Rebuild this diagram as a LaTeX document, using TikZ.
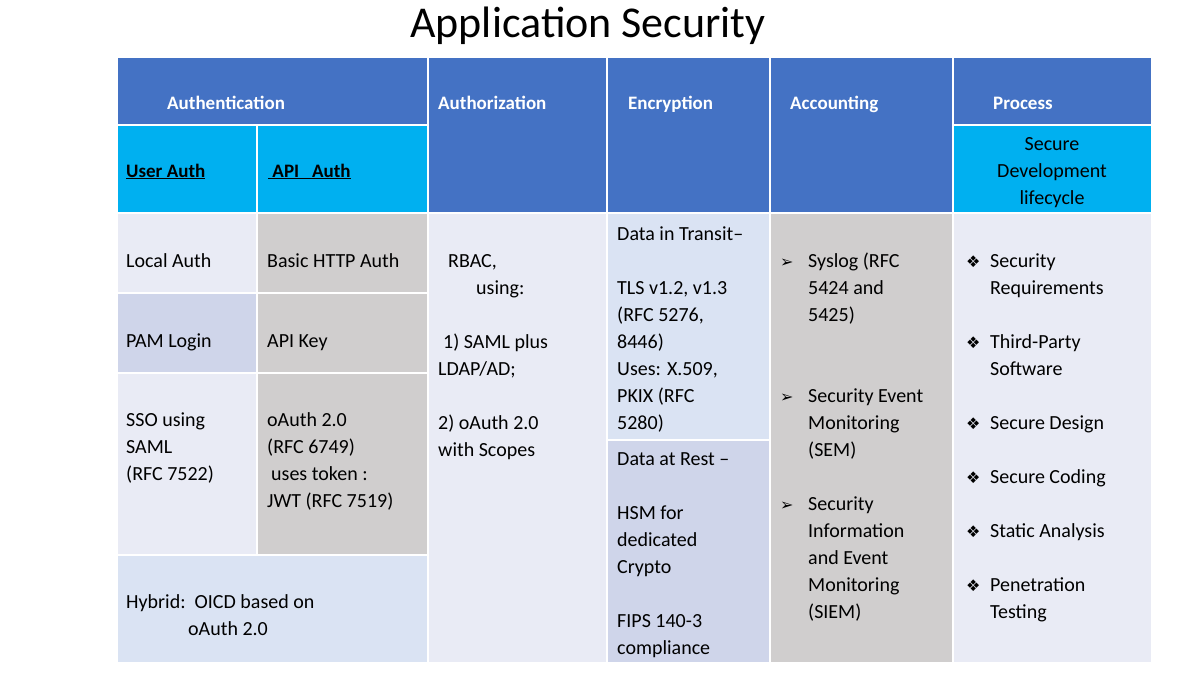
\documentclass[tikz,border=0pt]{standalone}
\usepackage{fontspec}
\setmainfont{Carlito}
\newfontfamily\dv{DejaVu Sans}
\definecolor{hblue}{HTML}{4472C4}
\definecolor{hcyan}{HTML}{00B0F0}
\definecolor{lgt}{HTML}{E9EBF5}
\definecolor{mid}{HTML}{CFD5EA}
\definecolor{gry}{HTML}{D0CECE}
\definecolor{lb}{HTML}{DAE3F3}
\newcommand{\cell}[6]{\path[fill=#6,draw=white,line width=2pt] (#2,#3) rectangle (#4,#5) coordinate (#1);}
\newcommand{\topr}{\rule{0pt}{20pt}}
\begin{document}
\begin{tikzpicture}[x=1pt,y=-1pt,
 txt/.style={anchor=north west,inner sep=0pt,align=left,font=\fontsize{20}{27}\selectfont},
 hd/.style={anchor=base west,inner sep=0pt,text=white,font=\fontsize{19}{27}\selectfont\bfseries},
 bul/.style={anchor=base west,inner sep=0pt,align=left,font=\dv\fontsize{16}{27}\selectfont}]
\useasboundingbox[fill=white] (0,0) rectangle (1200,675);
\node[anchor=base,inner sep=0pt,font=\fontsize{44}{50}\selectfont] (title) at (588,37) {Application Security};
% headers
\cell{c1}{117}{57}{428}{125}{hblue}
\cell{c2}{428}{57}{607}{213}{hblue}
\cell{c3}{607}{57}{770}{213}{hblue}
\cell{c4}{770}{57}{953}{213}{hblue}
\cell{c5}{953}{57}{1152}{125}{hblue}
\cell{c6}{117}{125}{257}{213}{hcyan}
\cell{c7}{257}{125}{428}{213}{hcyan}
\cell{c8}{953}{125}{1152}{213}{hcyan}
% body
\cell{b1}{117}{213}{257}{293}{lgt}
\cell{b2}{257}{213}{428}{293}{gry}
\cell{b3}{117}{293}{257}{373}{mid}
\cell{b4}{257}{293}{428}{373}{gry}
\cell{b5}{117}{373}{257}{555}{lgt}
\cell{b6}{257}{373}{428}{555}{gry}
\cell{b7}{117}{555}{428}{663}{lb}
\cell{b8}{428}{213}{607}{663}{lgt}
\cell{b9}{607}{213}{770}{440}{lb}
\cell{b10}{607}{440}{770}{663}{mid}
\cell{b11}{770}{213}{953}{663}{gry}
\cell{b12}{953}{213}{1152}{663}{lgt}
% header texts
\node[hd] (h1) at (167,109) {Authentication};
\node[hd] (h2) at (438,109) {Authorization};
\node[hd] (h3) at (628,109) {Encryption};
\node[hd] (h4) at (790,109) {Accounting};
\node[hd] (h5) at (993,109) {Process};
\node[hd,text=black] (s1) at (126,177) {\underline{User Auth}};
\node[hd,text=black] (s2) at (268,177) {\underline{\ API\ \ \ Auth}};
\node[txt,anchor=north,align=center] (s3) at (1052,130) {\topr Secure\\Development\\lifecycle};
% body texts
\node[txt] (t1) at (126,247) {\topr Local Auth};
\node[txt] (t2) at (267,247) {\topr Basic HTTP Auth};
\node[txt] (t3) at (126,327) {\topr PAM Login};
\node[txt] (t4) at (267,327) {\topr API Key};
\node[txt] (t5) at (126,406) {\topr SSO using\\SAML\\(RFC 7522)};
\node[txt] (t6) at (267,406) {\topr oAuth 2.0\\(RFC 6749)\\\hspace*{4pt}uses token :\\JWT (RFC 7519)};
\node[txt] (t7) at (126,588) {\topr Hybrid:\ \ OICD based on\\\hspace*{62pt}oAuth 2.0};
\node[txt] (t8) at (438,247) {\topr\hspace*{10pt}RBAC,\\\hspace*{38pt}using:\\[27pt]\hspace*{5pt}1) SAML plus\\LDAP/AD;\\[27pt]2) oAuth 2.0\\with Scopes};
\node[txt] (t9) at (617,220) {\topr Data in Transit–\\[27pt]TLS v1.2, v1.3\\(RFC 5276,\\8446)\\Uses: X.509,\\PKIX (RFC\\5280)};
\node[txt] (t10) at (617,445) {\topr Data at Rest –\\[27pt]HSM for\\dedicated\\Crypto\\[27pt]FIPS 140-3\\compliance};
\node[bul] (a1) at (780,267) {➢};
\node[bul] (a2) at (780,402) {➢};
\node[bul] (a3) at (780,510) {➢};
\node[txt] (t11) at (808,247) {\topr Syslog (RFC\\5424 and\\5425)\\[54pt]Security Event\\Monitoring\\(SEM)\\[27pt]Security\\Information\\and Event\\Monitoring\\(SIEM)};
\foreach \yy [count=\i] in {267,348,429,483,537,591} \node[bul] (p\i) at (966,\yy) {❖};
\node[txt] (t12) at (990,247) {\topr Security\\Requirements\\[27pt]Third-Party\\Software\\[27pt]Secure Design\\[27pt]Secure Coding\\[27pt]Static Analysis\\[27pt]Penetration\\Testing};
\end{tikzpicture}
\end{document}
